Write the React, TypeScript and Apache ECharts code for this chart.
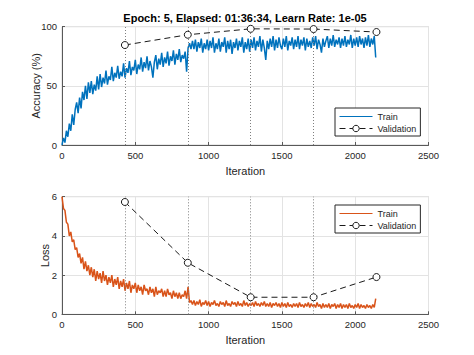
import React, { useEffect, useRef } from "react";
import * as echarts from "echarts";

const TRAIN_STEP = 10;

const ACC_TRAIN = [
  0, 6, 2, 12, 7, 18, 12, 26, 17, 30,
  36, 27, 40, 31, 45, 38, 50, 39, 53, 44,
  54, 43, 51, 46, 58, 47, 60, 49, 57, 52,
  63, 51, 58, 55, 66, 54, 61, 57, 67, 56,
  62, 58, 69, 57, 65, 61, 71, 59, 66, 63,
  72, 60, 68, 64, 74, 62, 70, 65, 75, 63,
  71, 66, 57, 70, 76, 64, 73, 68, 78, 66,
  74, 69, 79, 67, 75, 71, 80, 68, 77, 72,
  81, 70, 76, 73, 79, 62, 82, 86, 81, 88,
  81, 89, 79, 87, 82, 90, 78, 86, 81, 89,
  80, 88, 82, 91, 78, 86, 81, 90, 79, 87,
  83, 91, 78, 88, 81, 89, 77, 87, 82, 90,
  80, 88, 83, 91, 78, 87, 81, 90, 79, 89,
  82, 91, 80, 88, 83, 92, 79, 89, 82, 72,
  88, 81, 90, 83, 92, 80, 89, 82, 91, 84,
  81, 90, 83, 92, 80, 88, 84, 91, 81, 89,
  83, 92, 81, 89, 84, 91, 80, 90, 83, 88,
  82, 91, 84, 92, 81, 89, 85, 78, 90, 83,
  88, 92, 82, 90, 84, 93, 83, 89, 85, 91,
  82, 90, 84, 92, 83, 89, 85, 93, 82, 90,
  84, 91, 83, 92, 85, 90, 82, 91, 84, 93,
  83, 90, 85, 92, 74,
];

const LOSS_TRAIN = [
  6.0, 5.4, 5.3, 4.7, 4.6, 4.0, 4.2, 3.7, 3.8, 3.3,
  3.4, 2.9, 3.1, 2.6, 2.9, 2.3, 2.7, 2.2, 2.5, 2.0,
  2.4, 1.9, 2.3, 1.7, 2.2, 1.8, 2.1, 1.6, 2.2, 1.7,
  2.0, 1.5, 1.9, 1.6, 2.0, 1.4, 1.8, 1.5, 1.9, 1.3,
  1.7, 1.4, 1.8, 1.2, 1.6, 1.3, 1.7, 1.1, 1.5, 1.3,
  1.6, 1.1, 1.5, 1.2, 1.4, 1.0, 1.5, 1.2, 1.3, 1.0,
  1.4, 1.1, 1.3, 0.9, 1.4, 1.0, 1.2, 1.1, 1.3, 0.9,
  1.2, 0.9, 1.3, 1.0, 1.1, 0.8, 1.2, 0.9, 1.1, 0.8,
  1.1, 0.8, 1.0, 0.9, 1.2, 0.8, 1.4, 0.6, 0.7, 0.5,
  0.7, 0.45, 0.65, 0.5, 0.75, 0.4, 0.6, 0.5, 0.7, 0.45,
  0.65, 0.4, 0.6, 0.5, 0.7, 0.45, 0.55, 0.4, 0.65, 0.5,
  0.6, 0.4, 0.7, 0.45, 0.55, 0.4, 0.65, 0.5, 0.6, 0.4,
  0.65, 0.45, 0.55, 0.4, 0.7, 0.45, 0.6, 0.4, 0.55, 0.45,
  0.6, 0.4, 0.65, 0.45, 0.55, 0.4, 0.6, 0.45, 0.65, 0.4,
  0.55, 0.4, 0.6, 0.35, 0.55, 0.45, 0.6, 0.4, 0.55, 0.35,
  0.6, 0.4, 0.55, 0.35, 0.6, 0.4, 0.5, 0.35, 0.55, 0.4,
  0.55, 0.35, 0.6, 0.4, 0.5, 0.35, 0.55, 0.4, 0.6, 0.35,
  0.55, 0.4, 0.5, 0.35, 0.6, 0.4, 0.5, 0.3, 0.55, 0.35,
  0.5, 0.35, 0.55, 0.3, 0.5, 0.4, 0.55, 0.3, 0.5, 0.35,
  0.55, 0.3, 0.5, 0.35, 0.5, 0.3, 0.55, 0.35, 0.45, 0.3,
  0.5, 0.35, 0.55, 0.3, 0.5, 0.35, 0.45, 0.3, 0.5, 0.35,
  0.45, 0.3, 0.5, 0.35, 0.8,
];

const VAL_ITERS = [429, 858, 1287, 1716, 2145];
const VAL_ACC = [84.5, 93.2, 98.2, 98.0, 95.5];
const VAL_LOSS = [5.73, 2.63, 0.87, 0.87, 1.9];
const EPOCH_ENDS = [429, 858, 1287, 1716];

const X_TICKS = { min: 0, max: 2500, interval: 500 };
const ACC_TICKS = { min: 0, max: 100, interval: 50 };
const LOSS_TICKS = { min: 0, max: 6, interval: 2 };

const TITLE = "Epoch: 5, Elapsed: 01:36:34, Learn Rate: 1e-05";

const FONT = "'Liberation Sans', Arial, Helvetica, sans-serif";
const TEXT = "#262626";
const AXIS = "#595959";

const toPairs = (vals: number[]) => vals.map((v, i) => [i * TRAIN_STEP, v]);
const valPairs = (vals: number[]) => vals.map((v, i) => [VAL_ITERS[i], v]);

function xAxisCfg(gridIndex: number) {
  return {
    type: "value",
    gridIndex,
    ...X_TICKS,
    name: "Iteration",
    nameLocation: "middle",
    nameGap: 20,
    nameMoveOverlap: false,
    nameTextStyle: { fontFamily: FONT, fontSize: 11, color: TEXT },
    axisLine: { show: true, lineStyle: { color: AXIS, width: 1 } },
    axisTick: { show: true, inside: true, length: 3, lineStyle: { color: AXIS } },
    axisLabel: { fontFamily: FONT, fontSize: 9.5, color: TEXT, margin: 5, formatter: (v: number) => String(v) },
    splitLine: { show: true, lineStyle: { color: "#e3e3e3", width: 1 } },
  };
}

function yAxisCfg(gridIndex: number, name: string, ticks: any, gap: number) {
  return {
    type: "value",
    gridIndex,
    ...ticks,
    name,
    nameLocation: "middle",
    nameGap: gap,
    nameMoveOverlap: false,
    nameTextStyle: { fontFamily: FONT, fontSize: 11, color: TEXT },
    axisLine: { show: true, lineStyle: { color: AXIS, width: 1 } },
    axisTick: { show: true, inside: true, length: 3, lineStyle: { color: AXIS } },
    axisLabel: { fontFamily: FONT, fontSize: 9.5, color: TEXT, margin: 5, formatter: (v: number) => String(v) },
    splitLine: { show: true, lineStyle: { color: "#e3e3e3", width: 1 } },
  };
}

function epochLines(xi: number) {
  return {
    type: "line",
    name: "epochs" + xi,
    xAxisIndex: xi,
    yAxisIndex: xi,
    data: [],
    silent: true,
    markLine: {
      silent: true,
      symbol: ["none", "none"],
      label: { show: false },
      lineStyle: { type: [1, 2], color: "#7f7f7f", width: 1 },
      emphasis: { disabled: true },
      data: EPOCH_ENDS.map((x) => ({ xAxis: x })),
    },
  };
}

function valSeries(name: string, xi: number, vals: number[]) {
  return {
    type: "line",
    name,
    xAxisIndex: xi,
    yAxisIndex: xi,
    data: valPairs(vals),
    symbol: "circle",
    symbolSize: 7,
    showSymbol: true,
    lineStyle: { color: "#1a1a1a", width: 1, type: [6, 4] },
    itemStyle: { color: "#ffffff", borderColor: "#1a1a1a", borderWidth: 1 },
    z: 5,
  };
}

function trainSeries(name: string, xi: number, vals: number[], color: string) {
  return {
    type: "line",
    name,
    xAxisIndex: xi,
    yAxisIndex: xi,
    data: toPairs(vals),
    symbol: "none",
    showSymbol: false,
    lineStyle: { color, width: 1.5 },
    itemStyle: { color },
    z: 3,
  };
}

function legendCfg(top: number, train: string, val: string) {
  return {
    orient: "vertical",
    left: 335,
    top,
    data: [
      { name: train, itemStyle: { opacity: 0 } },
      { name: val },
    ],
    formatter: (n: string) => n.trim(),
    backgroundColor: "#ffffff",
    borderColor: "#262626",
    borderWidth: 1,
    borderRadius: 0,
    padding: [4, 4, 3, 4],
    itemGap: 3,
    itemWidth: 33,
    itemHeight: 8,
    selectedMode: false,
    lineStyle: { width: 1 },
    itemStyle: { borderWidth: 1 },
    textStyle: { fontFamily: FONT, fontSize: 9, color: TEXT },
  };
}

export default function App() {
  const ref = useRef<HTMLDivElement>(null);
  useEffect(() => {
    if (!ref.current) return;
    const chart = echarts.init(ref.current, undefined, { renderer: "svg" });
    chart.setOption({
      animation: false,
      backgroundColor: "#ffffff",
      textStyle: { fontFamily: FONT },
      grid: [
        { left: 62, top: 26.7, width: 366.5, height: 118.3, show: true, borderColor: "#d4d4d4", borderWidth: 1, backgroundColor: "transparent" },
        { left: 62, top: 196.7, width: 366.5, height: 117.6, show: true, borderColor: "#d4d4d4", borderWidth: 1, backgroundColor: "transparent" },
      ],
      xAxis: [xAxisCfg(0), xAxisCfg(1)],
      yAxis: [yAxisCfg(0, "Accuracy (%)", ACC_TICKS, 21), yAxisCfg(1, "Loss", LOSS_TICKS, 12)],
      legend: [
        legendCfg(108, "Train", "Validation"),
        legendCfg(205, "Train ", "Validation "),
      ],
      graphic: [
        {
          type: "text",
          x: 245,
          y: 17.5,
          style: {
            text: TITLE,
            fontFamily: FONT,
            fontSize: 11,
            fontWeight: "bold",
            fill: "#000000",
            align: "center",
            verticalAlign: "middle",
          },
        },
      ],
      series: [
        epochLines(0),
        epochLines(1),
        trainSeries("Train", 0, ACC_TRAIN, "#0072BD"),
        valSeries("Validation", 0, VAL_ACC),
        trainSeries("Train ", 1, LOSS_TRAIN, "#D95319"),
        valSeries("Validation ", 1, VAL_LOSS),
      ],
    });
    return () => chart.dispose();
  }, []);
  return (
    <div
      ref={ref}
      style={{ position: "absolute", left: 0, top: 0, width: 474, height: 355 }}
    />
  );
}
